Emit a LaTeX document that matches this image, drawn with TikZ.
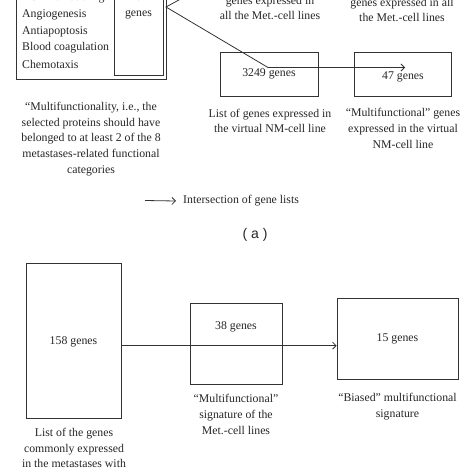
\documentclass[tikz,border=0pt]{standalone}
\usepackage{fontspec}
\setmainfont{Liberation Serif}
\newfontfamily\labelsans{Liberation Sans}
\usetikzlibrary{arrows.meta}
\begin{document}
\begin{tikzpicture}[x=1pt,y=-1pt,
  box/.style={draw=black!80, line width=0.8pt, inner sep=0pt},
  txt/.style={font=\fontsize{11.8}{15.6}\selectfont, text=black!85, align=center, inner sep=0pt},
  conn/.style={draw=black!80, line width=0.8pt},
  arr/.style={conn, -{Straight Barb[length=3.5pt,width=7pt]}}]
\useasboundingbox (0,0) rectangle (474,474);
\clip (0,0) rectangle (474,474);
% ---------- part (a) ----------
\node[box, minimum width=150pt, minimum height=139pt] (outer) at (91,9.5) {};
\node[box, minimum width=49pt, minimum height=120pt] (inner) at (138.5,15) {};
\node[txt] (g161) at (138.5,6) {161\\genes};
\node[txt, anchor=west] (ecm) at (22,-2) {ECM remodeling};
\node[txt, anchor=west] (angio) at (22,15) {Angiogenesis};
\node[txt, anchor=west] (anti) at (22,32) {Antiapoptosis};
\node[txt, anchor=west] (blood) at (22,48) {Blood coagulation};
\node[txt, anchor=west] (chemo) at (22,64) {Chemotaxis};
\node[txt] (multi) at (91,139) {“Multifunctionality, i.e., the\\selected proteins should have\\belonged to at least 2 of the 8\\metastases-related functional\\categories};

\node[txt] (met1) at (270,8) {genes expressed in\\all the Met.-cell lines};
\node[txt] (met2) at (402,10) {genes expressed in all\\the Met.-cell lines};

\node[box, minimum width=98pt, minimum height=44pt] (b3249) at (269,74) {};
\node[txt] (t3249) at (269,74) {3249 genes};
\node[box, minimum width=97pt, minimum height=44pt] (b47) at (403,74) {};
\node[txt] (t47) at (403,77) {47 genes};

\node[txt] (l3249) at (270,121) {List of genes expressed in\\the virtual NM-cell line};
\node[txt] (l47) at (403,128.5) {“Multifunctional” genes\\expressed in the virtual\\NM-cell line};

\coordinate (v) at (166,7);
\coordinate (up) at (188,-5);
\coordinate (bend) at (268,67.5);
\coordinate (tip) at (405,67.5);
\draw[conn] (up) -- (v) -- (bend);
\draw[arr] (bend) -- (tip);

% legend
\coordinate (lga) at (145,200.5);
\node[txt, anchor=west] (lgt) at (183,201) {Intersection of gene lists};
\draw[arr] (lga) -- ([xshift=-7pt]lgt.west);
\node[font=\labelsans\fontsize{14}{16}\selectfont, text=black!85, inner sep=0pt] (pa) at (255,235) {( a )};

% ---------- part (b) ----------
\node[box, minimum width=95pt, minimum height=155pt] (b158) at (73.5,340.5) {};
\node[txt] (t158) at (73.5,342) {158 genes};
\node[box, minimum width=92pt, minimum height=81pt] (b38) at (236,343.5) {};
\node[txt] (t38) at (236,327) {38 genes};
\node[box, minimum width=121pt, minimum height=81pt] (b15) at (397.5,338.5) {};
\node[txt] (t15) at (397.5,339) {15 genes};

\draw[arr] (b158.east |- 0,345.7) -- (b15.west |- 0,345.7);

\node[txt] (l38) at (236,414.5) {“Multifunctional”\\signature of the\\Met.-cell lines};
\node[txt] (l15) at (397.5,406.5) {“Biased” multifunctional\\signature};
\node[txt, anchor=north] (l158) at (74,428) {List of the genes\\commonly expressed\\in the metastases with\\respect to the virtual};
\end{tikzpicture}
\end{document}
